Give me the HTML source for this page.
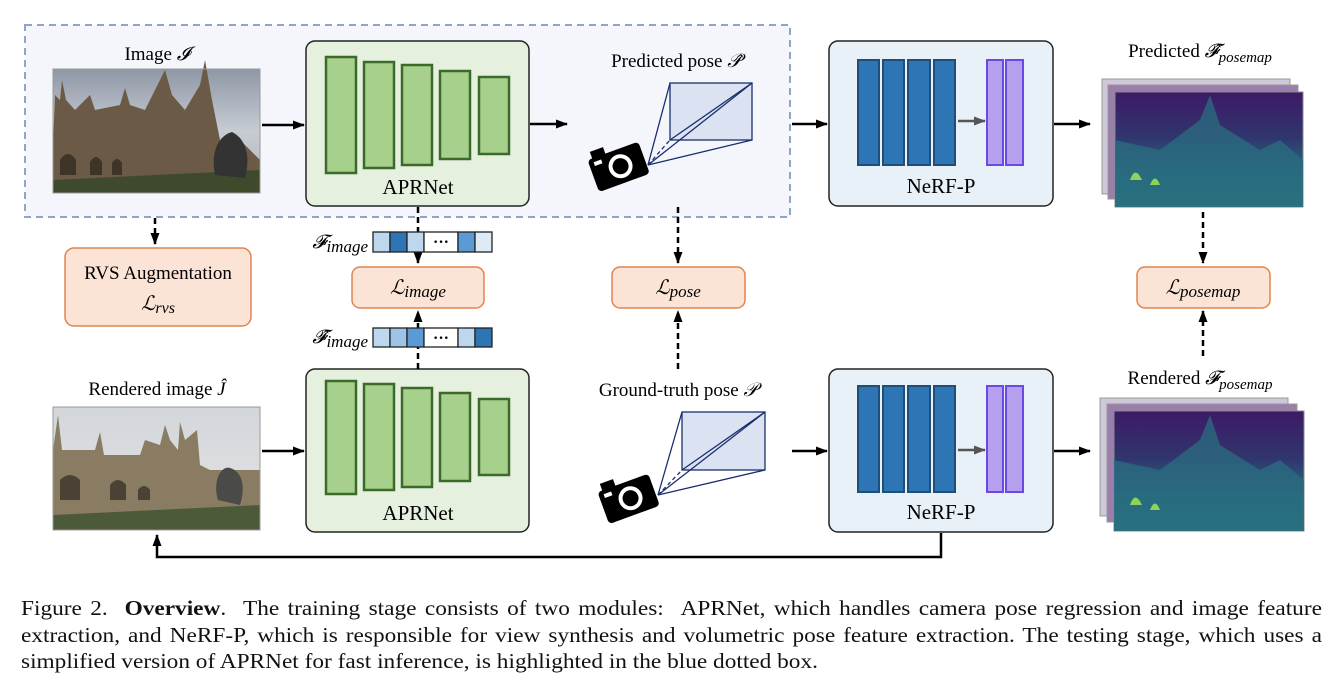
<!DOCTYPE html>
<html><head><meta charset="utf-8"><style>
body{margin:0;width:1341px;height:692px;background:#fff;overflow:hidden;position:relative;font-family:"Liberation Serif",serif}
svg{position:absolute;left:0;top:0}
.cap{position:absolute;left:21px;width:1172px;font-size:21px;line-height:26.5px;top:595px;color:#111;transform:scaleX(1.11);transform-origin:0 0}
.cap div{text-align:justify;text-align-last:justify;white-space:nowrap}
.cap div.l{text-align-last:left}
</style></head><body>
<svg width="1341" height="590" viewBox="0 0 1341 590" font-family="Liberation Serif, serif">
<defs>
<marker id="ah" markerWidth="12" markerHeight="10" refX="11" refY="5" orient="auto" markerUnits="userSpaceOnUse"><path d="M0,0.5 L12,5 L0,9.5z" fill="#000"/></marker>
<marker id="ag" markerWidth="12" markerHeight="10" refX="11" refY="5" orient="auto" markerUnits="userSpaceOnUse"><path d="M0,0.5 L12,5 L0,9.5z" fill="#555"/></marker>
<linearGradient id="sky" x1="0" y1="0" x2="0" y2="1"><stop offset="0" stop-color="#8f97a6"/><stop offset="0.5" stop-color="#c7ccd3"/><stop offset="1" stop-color="#aeb3b9"/></linearGradient>
<linearGradient id="sky2" x1="0" y1="0" x2="0" y2="1"><stop offset="0" stop-color="#d3d6da"/><stop offset="1" stop-color="#e3e4e6"/></linearGradient>
<linearGradient id="pm" x1="0" y1="0" x2="0" y2="1"><stop offset="0" stop-color="#3d1a66"/><stop offset="0.4" stop-color="#30366e"/><stop offset="0.7" stop-color="#236e7c"/><stop offset="1" stop-color="#1f8c82"/></linearGradient>
</defs>
<rect x="25" y="25" width="765" height="192" fill="#f4f6fb" stroke="#8da6c8" stroke-width="2" stroke-dasharray="7,5"/>

<text x="157" y="60" font-size="19" text-anchor="middle">Image <tspan font-style="italic">𝓘</tspan></text>
<rect x="53" y="69" width="207" height="124" fill="url(#sky)"/>
<path d="M53,145 L55,95 60,100 62,80 66,100 75,110 90,95 95,110 120,105 125,88 130,105 145,110 155,90 165,70 172,95 185,110 200,85 205,60 212,100 222,150 240,140 250,150 260,160 L260,193 53,193z" fill="#6b5a45"/>
<path d="M60,160 Q68,148 76,160 L76,175 60,175z M90,162 Q96,152 102,162 L102,175 90,175z M112,163 Q117,155 122,163 L122,175 112,175z" fill="#3e3528"/>
<path d="M53,180 L260,170 L260,193 L53,193z" fill="#3f4a2c"/>
<path d="M215,175 C210,150 220,135 232,132 C248,140 250,160 245,178z" fill="#333"/>
<rect x="53" y="69" width="207" height="124" fill="none" stroke="#999" stroke-width="1"/>

<text x="157" y="395" font-size="19" text-anchor="middle">Rendered image <tspan font-style="italic">Ĵ</tspan></text>
<rect x="53" y="407" width="207" height="123" fill="url(#sky2)"/>
<path d="M53,450 L58,415 62,450 95,450 100,432 104,455 140,455 145,440 160,445 165,425 170,440 178,450 180,422 185,440 197,430 200,465 210,470 260,470 L260,530 53,530z" fill="#8a7c62"/>
<path d="M60,500 L60,480 Q70,470 80,480 L80,500z M110,500 L110,485 Q118,475 126,485 L126,500z M138,500 L138,490 Q144,482 150,490 L150,500z" fill="#4a4235"/>
<path d="M53,515 L260,505 L260,530 L53,530z" fill="#4d5a3a"/>
<path d="M218,500 C212,480 222,465 230,468 C244,472 245,490 240,505z" fill="#4a4a48"/>
<rect x="53" y="407" width="207" height="123" fill="none" stroke="#999" stroke-width="1"/>

<line x1="262" y1="125" x2="304" y2="125" stroke="#000" stroke-width="2.5" marker-end="url(#ah)"/>
<line x1="262" y1="451" x2="304" y2="451" stroke="#000" stroke-width="2.5" marker-end="url(#ah)"/>

<rect x="306" y="41" width="223" height="165" rx="9" fill="#e6f0df" stroke="#222" stroke-width="1.5"/>
<g fill="#a8d08d" stroke="#3b6b2b" stroke-width="2.5">
<rect x="326" y="57" width="30" height="116"/><rect x="364" y="62" width="30" height="106"/><rect x="402" y="65" width="30" height="100"/><rect x="440" y="71" width="30" height="88"/><rect x="479" y="77" width="30" height="77"/></g>
<text x="418" y="194" font-size="21" text-anchor="middle">APRNet</text>
<rect x="306" y="369" width="223" height="163" rx="9" fill="#e6f0df" stroke="#222" stroke-width="1.5"/>
<g fill="#a8d08d" stroke="#3b6b2b" stroke-width="2.5">
<rect x="326" y="381" width="30" height="113"/><rect x="364" y="384" width="30" height="106"/><rect x="402" y="388" width="30" height="99"/><rect x="440" y="393" width="30" height="88"/><rect x="479" y="399" width="30" height="76"/></g>
<text x="418" y="520" font-size="21" text-anchor="middle">APRNet</text>

<line x1="530" y1="124" x2="567" y2="124" stroke="#000" stroke-width="2.5" marker-end="url(#ah)"/>

<text x="676" y="67" font-size="19" text-anchor="middle">Predicted pose <tspan font-style="italic">𝒫̂</tspan></text>
<g stroke="#1a2e6e" stroke-width="1.3" fill="none">
<rect x="670" y="83" width="82" height="57" fill="#dbe3f2"/>
<line x1="670" y1="140" x2="752" y2="83"/>
<line x1="648" y1="165" x2="670" y2="83"/><line x1="648" y1="165" x2="752" y2="83"/><line x1="648" y1="165" x2="752" y2="140"/><line x1="648" y1="165" x2="670" y2="140" stroke-dasharray="4,3"/>
</g>
<g transform="translate(618,165) rotate(-20)"><rect x="-27" y="-15" width="54" height="34" rx="4" fill="#000"/><rect x="-22" y="-22" width="14" height="8" fill="#000"/><circle cx="2" cy="2" r="12" fill="#fff"/><circle cx="2" cy="2" r="8" fill="#000"/><rect x="-22" y="-11" width="8" height="4" fill="#fff"/></g>

<text x="678" y="396" font-size="19" text-anchor="middle">Ground-truth pose <tspan font-style="italic">𝒫</tspan></text>
<g stroke="#1a2e6e" stroke-width="1.3" fill="none">
<rect x="682" y="412" width="83" height="58" fill="#dbe3f2"/>
<line x1="682" y1="470" x2="765" y2="412"/>
<line x1="658" y1="495" x2="682" y2="412"/><line x1="658" y1="495" x2="765" y2="412"/><line x1="658" y1="495" x2="765" y2="470"/><line x1="658" y1="495" x2="682" y2="470" stroke-dasharray="4,3"/>
</g>
<g transform="translate(628,497) rotate(-20)"><rect x="-27" y="-15" width="54" height="34" rx="4" fill="#000"/><rect x="-22" y="-22" width="14" height="8" fill="#000"/><circle cx="2" cy="2" r="12" fill="#fff"/><circle cx="2" cy="2" r="8" fill="#000"/><rect x="-22" y="-11" width="8" height="4" fill="#fff"/></g>

<line x1="792" y1="124" x2="827" y2="124" stroke="#000" stroke-width="2.5" marker-end="url(#ah)"/>
<line x1="792" y1="451" x2="827" y2="451" stroke="#000" stroke-width="2.5" marker-end="url(#ah)"/>

<rect x="829" y="41" width="224" height="165" rx="9" fill="#e8f0f8" stroke="#222" stroke-width="1.5"/>
<g fill="#2e75b6" stroke="#1f4e79" stroke-width="2"><rect x="858" y="60" width="21" height="105"/><rect x="883" y="60" width="21" height="105"/><rect x="908" y="60" width="22" height="105"/><rect x="934" y="60" width="21" height="105"/></g>
<line x1="958" y1="121" x2="985" y2="121" stroke="#555" stroke-width="2.5" marker-end="url(#ag)"/>
<g fill="#b4a0ec" stroke="#6d48e8" stroke-width="2"><rect x="987" y="60" width="16" height="105"/><rect x="1006" y="60" width="17" height="105"/></g>
<text x="941" y="193" font-size="21" text-anchor="middle">NeRF-P</text>
<rect x="829" y="369" width="224" height="163" rx="9" fill="#e8f0f8" stroke="#222" stroke-width="1.5"/>
<g fill="#2e75b6" stroke="#1f4e79" stroke-width="2"><rect x="858" y="386" width="21" height="106"/><rect x="883" y="386" width="21" height="106"/><rect x="908" y="386" width="22" height="106"/><rect x="934" y="386" width="21" height="106"/></g>
<line x1="958" y1="450" x2="985" y2="450" stroke="#555" stroke-width="2.5" marker-end="url(#ag)"/>
<g fill="#b4a0ec" stroke="#6d48e8" stroke-width="2"><rect x="987" y="386" width="16" height="106"/><rect x="1006" y="386" width="17" height="106"/></g>
<text x="941" y="519" font-size="21" text-anchor="middle">NeRF-P</text>

<line x1="1054" y1="124" x2="1090" y2="124" stroke="#000" stroke-width="2.5" marker-end="url(#ah)"/>
<line x1="1054" y1="451" x2="1090" y2="451" stroke="#000" stroke-width="2.5" marker-end="url(#ah)"/>

<text x="1200" y="57" font-size="19" text-anchor="middle">Predicted <tspan font-style="italic">𝓕̂</tspan><tspan font-style="italic" font-size="15" dy="5">posemap</tspan></text>
<rect x="1102" y="79" width="188" height="115" fill="#cfc8d8" stroke="#999"/>
<rect x="1108" y="85" width="190" height="114" fill="#9a7fac" stroke="#999"/>
<rect x="1115" y="92" width="188" height="115" fill="url(#pm)" stroke="#888"/>
<path d="M1115,140 L1160,150 1200,120 1210,95 1220,125 1260,150 1280,140 1303,160 L1303,207 1115,207z" fill="#2a6a80" opacity="0.8"/>
<path d="M1130,180 Q1135,165 1142,180z M1150,185 Q1155,172 1160,185z" fill="#8bd35a"/>
<text x="1200" y="384" font-size="19" text-anchor="middle">Rendered <tspan font-style="italic">𝓕</tspan><tspan font-style="italic" font-size="15" dy="5">posemap</tspan></text>
<rect x="1100" y="398" width="188" height="118" fill="#cfc8d8" stroke="#999"/>
<rect x="1107" y="404" width="190" height="118" fill="#9a7fac" stroke="#999"/>
<rect x="1114" y="411" width="190" height="120" fill="url(#pm)" stroke="#888"/>
<path d="M1114,460 L1160,470 1200,440 1210,415 1220,445 1260,470 1280,460 1304,480 L1304,531 1114,531z" fill="#2a6a80" opacity="0.8"/>
<path d="M1130,505 Q1135,490 1142,505z M1150,510 Q1155,497 1160,510z" fill="#8bd35a"/>

<g stroke="#000" stroke-width="2.5" stroke-dasharray="6,4">
<line x1="155" y1="218" x2="155" y2="244" marker-end="url(#ah)"/>
<line x1="418" y1="207" x2="418" y2="263" marker-end="url(#ah)"/>
<line x1="418" y1="369" x2="418" y2="311" marker-end="url(#ah)"/>
<line x1="678" y1="207" x2="678" y2="263" marker-end="url(#ah)"/>
<line x1="678" y1="369" x2="678" y2="311" marker-end="url(#ah)"/>
<line x1="1203" y1="212" x2="1203" y2="263" marker-end="url(#ah)"/>
<line x1="1203" y1="356" x2="1203" y2="311" marker-end="url(#ah)"/>
</g>

<g stroke="#222" stroke-width="1.3">
<rect x="373" y="232" width="17" height="20" fill="#bdd7ee"/><rect x="390" y="232" width="17" height="20" fill="#2e75b6"/><rect x="407" y="232" width="17" height="20" fill="#bdd7ee"/><rect x="424" y="232" width="34" height="20" fill="#fff"/><rect x="458" y="232" width="17" height="20" fill="#5b9bd5"/><rect x="475" y="232" width="17" height="20" fill="#deebf7"/>
<rect x="373" y="328" width="17" height="19" fill="#bdd7ee"/><rect x="390" y="328" width="17" height="19" fill="#9dc3e6"/><rect x="407" y="328" width="17" height="19" fill="#5b9bd5"/><rect x="424" y="328" width="34" height="19" fill="#fff"/><rect x="458" y="328" width="17" height="19" fill="#bdd7ee"/><rect x="475" y="328" width="17" height="19" fill="#2e75b6"/>
</g>
<text x="441" y="247" font-size="16" font-weight="bold" text-anchor="middle">···</text>
<text x="441" y="343" font-size="16" font-weight="bold" text-anchor="middle">···</text>
<text x="368" y="248" font-size="19" text-anchor="end" font-style="italic">𝓕<tspan font-size="17" dy="4">image</tspan></text>
<text x="368" y="343" font-size="19" text-anchor="end" font-style="italic">𝓕̂<tspan font-size="17" dy="4">image</tspan></text>

<g fill="#fbe3d5" stroke="#e0854e" stroke-width="1.5">
<rect x="65" y="248" width="186" height="78" rx="9"/>
<rect x="352" y="267" width="132" height="41" rx="8"/>
<rect x="612" y="267" width="133" height="41" rx="8"/>
<rect x="1137" y="267" width="133" height="41" rx="8"/>
</g>
<text x="158" y="279" font-size="19" text-anchor="middle">RVS Augmentation</text>
<text x="158" y="310" font-size="20" text-anchor="middle" font-style="italic">ℒ<tspan font-size="16" dy="3">rvs</tspan></text>
<text x="418" y="294" font-size="20" text-anchor="middle" font-style="italic">ℒ<tspan font-size="17" dy="3">image</tspan></text>
<text x="678" y="294" font-size="20" text-anchor="middle" font-style="italic">ℒ<tspan font-size="17" dy="3">pose</tspan></text>
<text x="1203" y="294" font-size="20" text-anchor="middle" font-style="italic">ℒ<tspan font-size="17" dy="3">posemap</tspan></text>

<polyline points="941,533 941,557 157,557 157,535" fill="none" stroke="#000" stroke-width="2.5" marker-end="url(#ah)"/>
</svg>
<div class="cap">
<div>Figure 2. &nbsp;<b>Overview</b>. &nbsp;The training stage consists of two modules: &nbsp;APRNet, which handles camera pose regression and image feature</div>
<div>extraction, and NeRF-P, which is responsible for view synthesis and volumetric pose feature extraction. The testing stage, which uses a</div>
<div class="l">simplified version of APRNet for fast inference, is highlighted in the blue dotted box.</div>
</div>
</body></html>
